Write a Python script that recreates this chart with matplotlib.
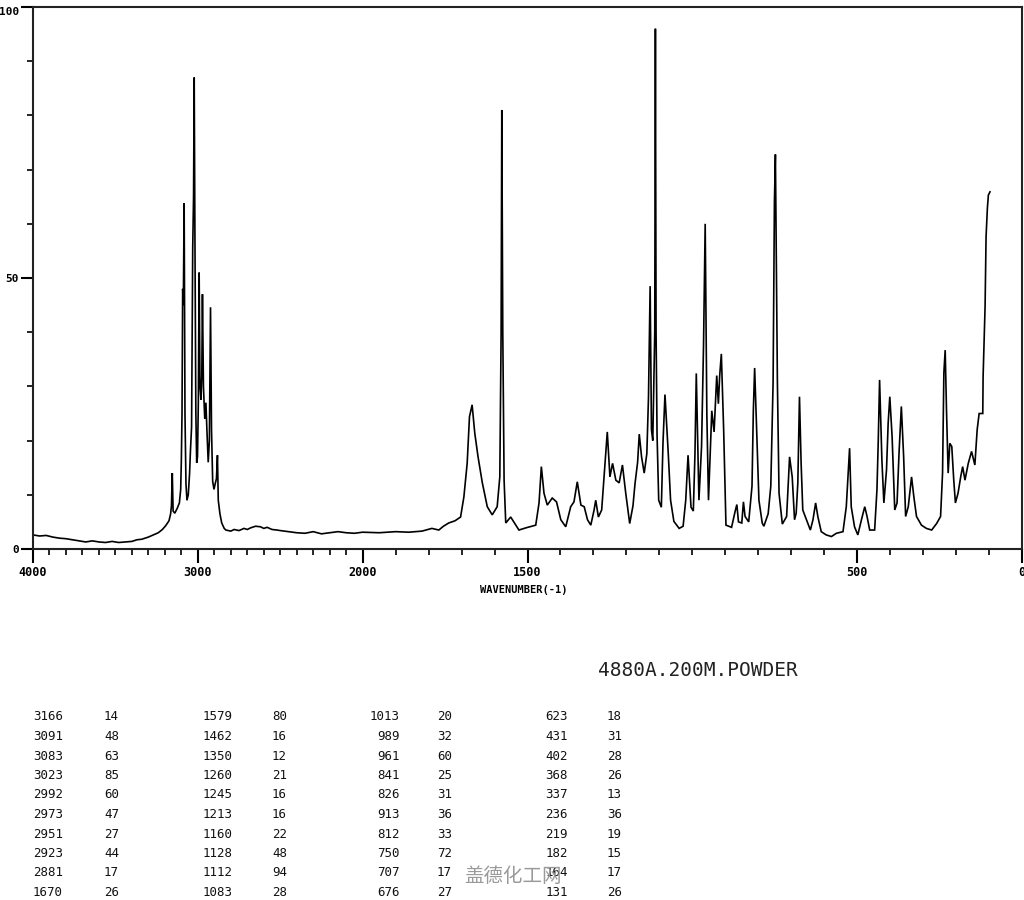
import numpy as np
import matplotlib
matplotlib.use("Agg")
import matplotlib.pyplot as plt
from matplotlib.ticker import FixedLocator, NullFormatter

# ---------------- data ----------------
wavenumber = [
    4000, 3960, 3920, 3880, 3840, 3800, 3760, 3720, 3680, 3640, 3600, 3560, 3520,
    3480, 3440, 3400, 3370, 3340, 3300, 3270, 3240, 3215, 3195, 3175, 3165, 3160,
    3155, 3150, 3140, 3125, 3112, 3104, 3100, 3096, 3092, 3088, 3083, 3078, 3072,
    3066, 3058, 3050, 3045, 3038, 3031, 3026, 3022, 3018, 3012, 3007, 3002, 2997,
    2992, 2987, 2981, 2976, 2972, 2966, 2958, 2951, 2945, 2937, 2930, 2923, 2917,
    2910, 2902, 2895, 2887, 2881, 2876, 2866, 2855, 2840, 2830, 2800, 2780, 2750,
    2720, 2700, 2680, 2650, 2620, 2600, 2580, 2550, 2520, 2500, 2450, 2400, 2350,
    2300, 2250, 2200, 2150, 2100, 2050, 2000, 1950, 1900, 1860, 1820, 1790, 1769,
    1755, 1739, 1720, 1703, 1693, 1683, 1676, 1668, 1660, 1650, 1637, 1622, 1607,
    1592, 1584, 1580, 1578, 1575, 1571, 1566, 1551, 1526, 1505, 1475, 1465, 1458,
    1450, 1440, 1425, 1412, 1399, 1384, 1369, 1359, 1349, 1338, 1328, 1318, 1308,
    1298, 1293, 1285, 1275, 1267, 1258, 1250, 1242, 1232, 1222, 1212, 1202, 1190,
    1180, 1174, 1166, 1161, 1154, 1146, 1138, 1133, 1128, 1124, 1120, 1114, 1112,
    1110, 1107, 1102, 1094, 1089, 1083, 1073, 1066, 1056, 1040, 1028, 1020, 1013,
    1004, 997, 992, 988, 980, 972, 966, 961, 956, 951, 941, 934, 926, 921, 917,
    912, 905, 898, 881, 870, 865, 860, 850, 845, 840, 829, 819, 815, 811, 805,
    798, 788, 783, 770, 762, 755, 751, 748, 742, 737, 727, 714, 705, 697, 690,
    685, 680, 675, 670, 665, 650, 642, 634, 626, 619, 609, 594, 578, 563, 543,
    533, 528, 523, 518, 508, 498, 487, 477, 470, 462, 447, 440, 436, 432, 425,
    419, 411, 406, 401, 394, 386, 379, 373, 366, 359, 353, 345, 335, 328, 320,
    305, 290, 274, 259, 247, 241, 237, 233, 229, 224, 219, 213, 207, 202, 194,
    186, 180, 173, 163, 153, 143, 136, 130, 119, 118, 112, 109, 105, 102, 97,
]
intensity = [
    2.6, 2.4, 2.5, 2.2, 2.0, 1.9, 1.7, 1.5, 1.3, 1.5, 1.3, 1.2, 1.4,
    1.2, 1.3, 1.4, 1.7, 1.8, 2.2, 2.6, 3.0, 3.6, 4.3, 5.2, 6.5, 8.0,
    14.0, 7.0, 6.6, 7.5, 8.5, 11.0, 16.4, 25.0, 48.0, 45.0, 63.8, 25.0, 12.0,
    9.0, 10.0, 14.0, 18.0, 22.5, 55.7, 65.0, 87.0, 60.0, 25.0, 15.9, 17.0, 27.0,
    51.0, 30.0, 27.5, 32.0, 47.0, 30.0, 24.0, 27.0, 22.0, 16.0, 20.0, 44.6, 22.0,
    12.5, 11.0, 12.0, 13.0, 17.3, 9.0, 6.5, 4.8, 3.8, 3.5, 3.3, 3.6, 3.4,
    3.8, 3.6, 3.9, 4.2, 4.1, 3.8, 4.0, 3.6, 3.5, 3.4, 3.2, 3.0, 2.9,
    3.2, 2.8, 3.0, 3.2, 3.0, 2.9, 3.1, 3.0, 3.2, 3.1, 3.3, 3.8, 3.5,
    4.2, 4.8, 5.2, 5.9, 9.6, 15.8, 24.4, 26.6, 21.4, 17.0, 12.2, 7.8, 6.3,
    7.8, 13.3, 40.0, 81.0, 40.0, 12.7, 4.8, 5.9, 3.5, 3.9, 4.4, 8.5, 15.2,
    10.3, 8.1, 9.4, 8.7, 5.4, 4.1, 7.8, 8.7, 12.4, 8.1, 7.8, 5.4, 4.4,
    7.2, 9.0, 5.9, 7.2, 14.0, 21.6, 13.3, 15.8, 12.7, 12.2, 15.5, 10.3, 4.7,
    8.0, 12.0, 16.0, 21.2, 17.0, 14.0, 17.6, 28.0, 48.5, 22.0, 20.0, 40.0, 96.0,
    40.0, 21.0, 9.0, 7.7, 19.6, 28.5, 17.6, 9.0, 5.1, 3.8, 4.2, 9.0, 17.3,
    7.7, 7.0, 17.6, 32.4, 9.0, 19.0, 37.7, 60.0, 25.0, 9.0, 25.5, 21.6, 32.0, 26.8, 32.0,
    36.0, 22.0, 4.4, 4.0, 7.0, 8.2, 5.0, 4.8, 8.7, 6.0, 5.0, 11.6, 25.4, 33.4, 22.0,
    9.0, 4.8, 4.2, 6.5, 11.6, 30.8, 64.0, 72.8, 31.0, 10.3, 4.6, 6.0, 17.0, 13.3, 5.4,
    6.6, 12.2, 28.1, 15.8, 7.2, 4.8, 3.5, 5.4, 8.5, 5.9, 3.2, 2.6, 2.3, 2.9, 3.2,
    7.8, 13.3, 18.6, 7.8, 4.1, 2.6, 5.4, 7.8, 6.0, 3.5, 3.5, 10.9, 20.0, 31.2, 16.4,
    8.5, 14.6, 23.2, 28.1, 20.7, 7.2, 8.5, 17.7, 26.3, 17.0, 6.0, 7.8, 13.3, 9.6, 6.0,
    4.4, 3.8, 3.5, 4.7, 6.0, 14.0, 32.5, 36.7, 25.6, 14.0, 19.5, 18.9, 12.7, 8.5, 10.3,
    13.3, 15.2, 12.7, 15.8, 18.0, 15.5, 22.0, 25.0, 25.0, 31.8, 44.7, 57.6, 62.9, 65.3, 65.9,
]

x_ticks_major = [4000, 3000, 2000, 1500, 500, 0]
x_tick_labels = ["4000", "3000", "2000", "1500", "500", "0"]
y_ticks_major = [0, 50, 100]
y_tick_labels = ["0", "50", "100"]

table_wavenumbers = [
    [3166, 3091, 3083, 3023, 2992, 2973, 2951, 2923, 2881, 1670],
    [1579, 1462, 1350, 1260, 1245, 1213, 1160, 1128, 1112, 1083],
    [1013, 989, 961, 841, 826, 913, 812, 750, 707, 676],
    [623, 431, 402, 368, 337, 236, 219, 182, 164, 131],
]
table_intensities = [
    [14, 48, 63, 85, 60, 47, 27, 44, 17, 26],
    [80, 16, 12, 21, 16, 16, 22, 48, 94, 28],
    [20, 32, 60, 25, 31, 36, 33, 72, 17, 27],
    [18, 31, 28, 26, 13, 36, 19, 15, 17, 26],
]
sample_label = "4880A.200M.POWDER"
x_axis_label = "WAVENUMBER(-1)"
watermark = "盖德化工网"

# ---------------- figure ----------------
W, H = 1024, 900
fig = plt.figure(figsize=(W / 100, H / 100), dpi=100)
ax = fig.add_axes([33 / W, 1 - 549 / H, (1022 - 33) / W, 542 / H])


def fwd(w):
    w = np.asarray(w, dtype=float)
    return np.where(w <= 2000, w, 2000 + (w - 2000) / 2.0)


def inv(t):
    t = np.asarray(t, dtype=float)
    return np.where(t <= 2000, t, 2000 + (t - 2000) * 2.0)


ax.set_xscale("function", functions=(fwd, inv))
ax.plot(wavenumber, intensity, color="black", lw=1.2, solid_joinstyle="miter")
ax.set_xlim(4000, 0)
ax.set_ylim(0, 100)

mono = "DejaVu Sans Mono"
ax.xaxis.set_major_locator(FixedLocator(x_ticks_major))
ax.set_xticklabels(x_tick_labels, family=mono, fontsize=8.5, fontweight="bold")
ax.xaxis.set_minor_locator(FixedLocator(list(range(0, 4001, 100))))
ax.xaxis.set_minor_formatter(NullFormatter())
ax.yaxis.set_major_locator(FixedLocator(y_ticks_major))
ax.set_yticklabels(y_tick_labels, family=mono, fontsize=8, fontweight="bold")
ax.yaxis.set_minor_locator(FixedLocator(list(range(0, 101, 10))))
ax.yaxis.set_minor_formatter(NullFormatter())

ax.tick_params(axis="x", which="major", direction="out", length=10, width=1.5,
               color="black", pad=2)
ax.tick_params(axis="y", which="major", direction="out", length=9, width=1.5,
               color="black", pad=1)
ax.tick_params(axis="both", which="minor", direction="out", length=4, width=1.2,
               color="black")
# keep the top "100" label inside the canvas
ylabels = ax.get_yticklabels()
ylabels[-1].set_verticalalignment("top")

for sp in ax.spines.values():
    sp.set_linewidth(1.5)
    sp.set_color("#222222")

fig.text(524 / W, 1 - 590 / H, x_axis_label, family=mono, fontsize=7.5,
         fontweight="bold", ha="center", va="center")

fig.text(698 / W, 1 - 670 / H, sample_label, family=mono, fontsize=14,
         ha="center", va="center", color="#222222")

num_right = [63, 233, 400, 568]
val_left = [104, 272, 437, 607]
row_y0, row_dy = 717, 19.5
for c in range(4):
    for r in range(10):
        yy = 1 - (row_y0 + r * row_dy) / H
        fig.text(num_right[c] / W, yy, str(table_wavenumbers[c][r]), family=mono,
                 fontsize=9, ha="right", va="center", color="#111111")
        fig.text(val_left[c] / W, yy, str(table_intensities[c][r]), family=mono,
                 fontsize=9, ha="left", va="center", color="#111111")

fig.text(513 / W, 1 - 877 / H, watermark, family=["Noto Sans CJK SC", "DejaVu Sans"],
         fontsize=14, ha="center", va="center", color="#9a9a9a")

fig.savefig("out.png", dpi=100)
